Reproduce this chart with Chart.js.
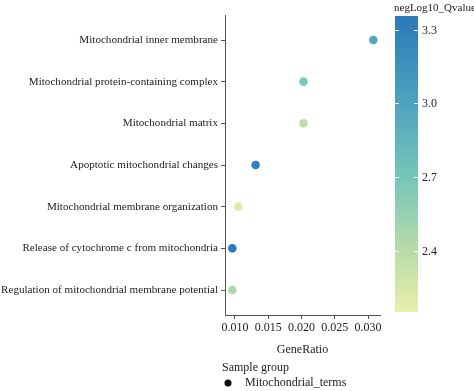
<!DOCTYPE html>
<html lang="en">
<head>
  <meta charset="UTF-8">
  <title>GeneRatio dot plot</title>
  <script src="https://cdn.jsdelivr.net/npm/chart.js"></script>
  <style>
    body {
      margin: 0;
      background: white;
    }
    #wrap {
      width: 474px;
      height: 391px;
    }
  </style>
</head>
<body>
  <div id="wrap"><canvas id="dotChart"></canvas></div>

  <script>
    // Data
    const terms = [
      "Mitochondrial inner membrane",
      "Mitochondrial protein-containing complex",
      "Mitochondrial matrix",
      "Apoptotic mitochondrial changes",
      "Mitochondrial membrane organization",
      "Release of cytochrome c from mitochondria",
      "Regulation of mitochondrial membrane potential"
    ];
    const geneRatio = [0.0308, 0.0203, 0.0203, 0.0131, 0.0105, 0.0096, 0.0096];
    const negLog10Q = [2.98, 2.68, 2.37, 3.3, 2.2, 3.36, 2.46];

    const xTicks = [0.010, 0.015, 0.020, 0.025, 0.030];
    const colorTicks = [2.4, 2.7, 3.0, 3.3];
    const colorMin = 2.15, colorMax = 3.355;

    // colour ramp, low -> high
    const ramp = [
      [0.00, [233, 240, 172]],
      [0.20, [186, 220, 168]],
      [0.45, [118, 199, 184]],
      [0.70, [80, 163, 190]],
      [1.00, [43, 122, 185]]
    ];

    function qColor(v) {
      let t = (v - colorMin) / (colorMax - colorMin);
      t = Math.max(0, Math.min(1, t));
      for (let i = 1; i < ramp.length; i++) {
        if (t <= ramp[i][0]) {
          const a = ramp[i - 1], b = ramp[i];
          const f = (t - a[0]) / (b[0] - a[0]);
          const c = a[1].map((ch, k) => Math.round(ch + (b[1][k] - ch) * f));
          return `rgb(${c[0]},${c[1]},${c[2]})`;
        }
      }
      return 'rgb(43,122,185)';
    }

    const FONT = "'Liberation Serif', 'DejaVu Serif', serif";
    Chart.defaults.font.family = FONT;
    Chart.defaults.color = '#222';

    // colour bar + sample group legend
    const extras = {
      id: 'extras',
      afterDraw(chart) {
        const ctx = chart.ctx;
        const bx = 395, bw = 23, top = 16, bottom = 312;
        const valToY = v => bottom - (v - colorMin) / (colorMax - colorMin) * (bottom - top);

        const grad = ctx.createLinearGradient(0, bottom, 0, top);
        ramp.forEach(s => grad.addColorStop(s[0], `rgb(${s[1].join(',')})`));
        ctx.save();
        ctx.fillStyle = grad;
        ctx.fillRect(bx, top, bw, bottom - top);

        ctx.strokeStyle = 'white';
        ctx.lineWidth = 1;
        ctx.font = `12px ${FONT}`;
        ctx.fillStyle = '#222';
        ctx.textAlign = 'left';
        ctx.textBaseline = 'middle';
        colorTicks.forEach(v => {
          const y = Math.round(valToY(v)) + 0.5;
          ctx.beginPath();
          ctx.moveTo(bx, y); ctx.lineTo(bx + 4, y);
          ctx.moveTo(bx + bw - 4, y); ctx.lineTo(bx + bw, y);
          ctx.stroke();
          ctx.fillText(v.toFixed(1), bx + bw + 4, y);
        });

        ctx.font = `11px ${FONT}`;
        ctx.fillText('negLog10_Qvalue', 394, 8);

        // sample group legend
        ctx.font = `12px ${FONT}`;
        ctx.fillText('Sample group', 222, 368);
        ctx.beginPath();
        ctx.arc(228, 383, 3.5, 0, Math.PI * 2);
        ctx.fillStyle = '#111';
        ctx.fill();
        ctx.fillStyle = '#222';
        ctx.fillText('Mitochondrial_terms', 245, 383);
        ctx.restore();
      }
    };

    const points = geneRatio.map((x, i) => ({ x: x, y: i }));

    new Chart(document.getElementById('dotChart'), {
      type: 'scatter',
      data: {
        datasets: [{
          label: 'Mitochondrial_terms',
          data: points,
          pointRadius: 4.3,
          pointHoverRadius: 4.3,
          pointBorderWidth: 0,
          pointBackgroundColor: negLog10Q.map(qColor),
          pointBorderColor: negLog10Q.map(qColor)
        }]
      },
      options: {
        responsive: true,
        maintainAspectRatio: false,
        animation: false,
        layout: { padding: { top: 15, right: 94, bottom: 34, left: 0 } },
        plugins: {
          legend: { display: false },
          tooltip: { enabled: false }
        },
        scales: {
          x: {
            type: 'linear',
            min: 0.0085,
            max: 0.0318,
            afterBuildTicks: s => { s.ticks = xTicks.map(v => ({ value: v })); },
            afterFit: s => { s.height = 42; },
            ticks: {
              font: { size: 12 },
              padding: 2,
              maxRotation: 0,
              callback: v => v.toFixed(3)
            },
            grid: { drawOnChartArea: false, drawTicks: true, tickLength: 4, color: '#555' },
            border: { display: true, color: '#555', width: 1 },
            title: { display: true, text: 'GeneRatio', font: { size: 12 }, padding: { top: 4, bottom: 0 } }
          },
          y: {
            type: 'linear',
            reverse: true,
            min: -0.6,
            max: 6.6,
            afterBuildTicks: s => { s.ticks = terms.map((t, i) => ({ value: i })); },
            afterFit: s => { s.width = 225; },
            ticks: {
              font: { size: 11.1 },
              padding: 3,
              callback: v => terms[v]
            },
            grid: { drawOnChartArea: false, drawTicks: true, tickLength: 4, color: '#555' },
            border: { display: true, color: '#555', width: 1 }
          }
        }
      },
      plugins: [extras]
    });
  </script>
</body>
</html>
